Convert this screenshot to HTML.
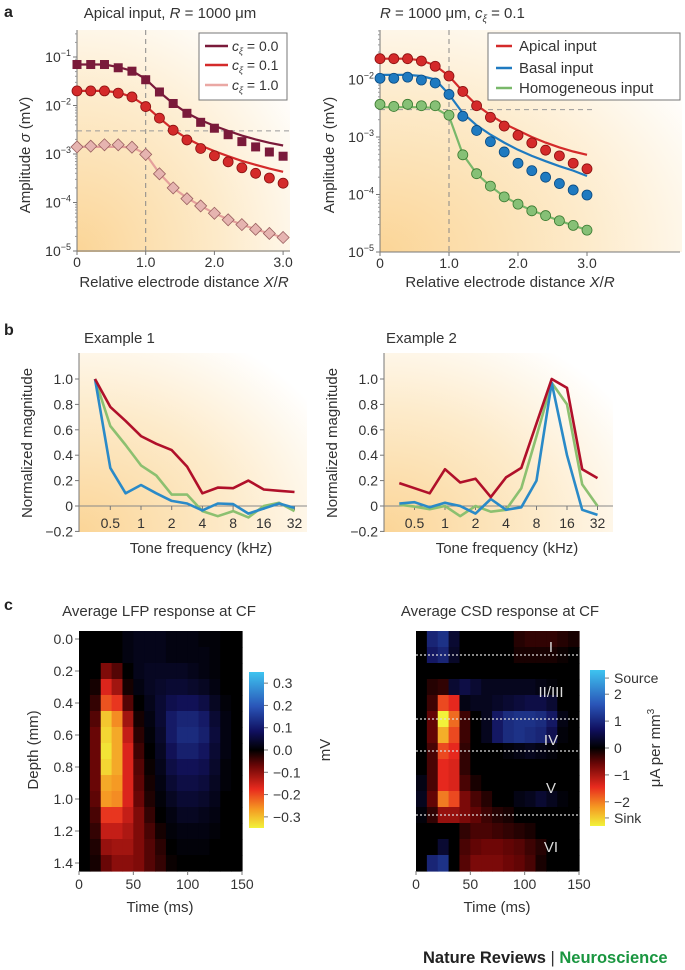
<!DOCTYPE html>
<html><head><meta charset="utf-8">
<style>
html,body{margin:0;padding:0;background:#fff;}
svg{display:block;font-family:"Liberation Sans",sans-serif;}
text{fill:#333;}
</style></head>
<body>
<svg id="fig" width="685" height="970" viewBox="0 0 685 970" xmlns="http://www.w3.org/2000/svg">
<defs>
<radialGradient id="bgA" cx="0" cy="1" r="1.25" fx="0" fy="1">
<stop offset="0" stop-color="#fbd597"/><stop offset="0.55" stop-color="#fdebcb"/><stop offset="1" stop-color="#ffffff"/>
</radialGradient>
<linearGradient id="cbar" x1="0" y1="1" x2="0" y2="0">
<stop offset="0" stop-color="#f2f23a"/><stop offset="0.12" stop-color="#f59a22"/><stop offset="0.25" stop-color="#e82a1e"/><stop offset="0.4" stop-color="#6a0606"/><stop offset="0.5" stop-color="#000"/><stop offset="0.62" stop-color="#101060"/><stop offset="0.78" stop-color="#2a55b8"/><stop offset="1" stop-color="#3ec4f0"/>
</linearGradient>
</defs>

<text x="4" y="17" font-size="16" font-weight="bold" style="fill:#222">a</text>
<text x="170" y="18" font-size="15" text-anchor="middle">Apical input, <tspan font-style="italic">R</tspan> = 1000 μm</text>
<text x="380" y="18" font-size="15"><tspan font-style="italic">R</tspan> = 1000 μm, <tspan font-style="italic">c</tspan><tspan font-size="10" dy="4" font-style="italic">ξ</tspan><tspan dy="-4"> = 0.1</tspan></text>

<rect x="77" y="30" width="213" height="222" fill="url(#bgA)"/>
<rect x="380" y="30" width="302" height="222" fill="url(#bgA)"/>

<text transform="translate(30,155) rotate(-90)" font-size="15" text-anchor="middle">Amplitude <tspan font-style="italic">σ</tspan> (mV)</text>
<text transform="translate(334,155) rotate(-90)" font-size="15" text-anchor="middle">Amplitude <tspan font-style="italic">σ</tspan> (mV)</text>
<text x="184" y="287" font-size="15" text-anchor="middle">Relative electrode distance <tspan font-style="italic">X</tspan>/<tspan font-style="italic">R</tspan></text>
<text x="510" y="287" font-size="15" text-anchor="middle">Relative electrode distance <tspan font-style="italic">X</tspan>/<tspan font-style="italic">R</tspan></text>

<g id="aLeft"></g>
<g id="aRight"></g>

<g>
<rect x="199" y="33" width="88" height="67" fill="#fff" stroke="#777" stroke-width="1"/>
<line x1="205" y1="46" x2="228" y2="46" stroke="#7a1a3a" stroke-width="2.5"/>
<line x1="205" y1="65" x2="228" y2="65" stroke="#d42a2a" stroke-width="2.5"/>
<line x1="205" y1="85" x2="228" y2="85" stroke="#eaa8a4" stroke-width="2.5"/>
<text x="232" y="51" font-size="14"><tspan font-style="italic">c</tspan><tspan font-size="9" dy="3" font-style="italic">ξ</tspan><tspan dy="-3"> = 0.0</tspan></text>
<text x="232" y="70" font-size="14"><tspan font-style="italic">c</tspan><tspan font-size="9" dy="3" font-style="italic">ξ</tspan><tspan dy="-3"> = 0.1</tspan></text>
<text x="232" y="90" font-size="14"><tspan font-style="italic">c</tspan><tspan font-size="9" dy="3" font-style="italic">ξ</tspan><tspan dy="-3"> = 1.0</tspan></text>
</g>
<g>
<rect x="488" y="33" width="192" height="67" fill="#fff" stroke="#777" stroke-width="1"/>
<line x1="496" y1="46" x2="512" y2="46" stroke="#d42a2a" stroke-width="2.5"/>
<line x1="496" y1="68" x2="512" y2="68" stroke="#1f7ac0" stroke-width="2.5"/>
<line x1="496" y1="88" x2="512" y2="88" stroke="#79b86a" stroke-width="2.5"/>
<text x="519" y="51" font-size="15">Apical input</text>
<text x="519" y="73" font-size="15">Basal input</text>
<text x="519" y="93" font-size="15">Homogeneous input</text>
</g>

<text x="4" y="335" font-size="16" font-weight="bold" style="fill:#222">b</text>
<text x="84" y="343" font-size="15">Example 1</text>
<text x="386" y="343" font-size="15">Example 2</text>
<rect x="79" y="353" width="228" height="179" fill="url(#bgA)"/>
<rect x="384" y="353" width="229" height="179" fill="url(#bgA)"/>
<text transform="translate(32,443) rotate(-90)" font-size="15" text-anchor="middle">Normalized magnitude</text>
<text transform="translate(337,443) rotate(-90)" font-size="15" text-anchor="middle">Normalized magnitude</text>
<text x="201" y="553" font-size="15" text-anchor="middle">Tone frequency (kHz)</text>
<text x="507" y="553" font-size="15" text-anchor="middle">Tone frequency (kHz)</text>
<g id="bLeft"></g>
<g id="bRight"></g>

<text x="4" y="610" font-size="16" font-weight="bold" style="fill:#222">c</text>
<text x="159" y="616" font-size="15" text-anchor="middle">Average LFP response at CF</text>
<text x="500" y="616" font-size="15" text-anchor="middle">Average CSD response at CF</text>
<text transform="translate(38,750) rotate(-90)" font-size="15" text-anchor="middle">Depth (mm)</text>
<text x="160" y="912" font-size="15" text-anchor="middle">Time (ms)</text>
<text x="497" y="912" font-size="15" text-anchor="middle">Time (ms)</text>
<g id="cLeft"></g>
<g id="cRight"></g>

<rect x="249" y="672" width="15" height="156" fill="url(#cbar)"/>
<rect x="590" y="670" width="15" height="156" fill="url(#cbar)"/>
<text transform="translate(330,750) rotate(-90)" font-size="15" text-anchor="middle">mV</text>
<text transform="translate(660,748) rotate(-90)" font-size="15" text-anchor="middle">μA per mm<tspan font-size="10" dy="-6">3</tspan></text>

<text x="423" y="963" font-size="16.5" font-weight="bold" style="fill:#222">Nature Reviews <tspan style="fill:#333;font-weight:normal">|</tspan> <tspan style="fill:#1a9640">Neuroscience</tspan></text>
</svg>

<script>
const aX = [0,0.2,0.4,0.6,0.8,1.0,1.2,1.4,1.6,1.8,2.0,2.2,2.4,2.6,2.8,3.0];
const aYTicks = [-1,-2,-3,-4,-5];
const aRYTicks = [-2,-3,-4,-5];
const aXTicks = [0,1,2,3];
const aXTickLabels = ["0","1.0","2.0","3.0"];
const c0Points = [7e-2,7e-2,7e-2,6e-2,5.1e-2,3.4e-2,1.9e-2,1.1e-2,6.9e-3,4.5e-3,3.4e-3,2.5e-3,1.8e-3,1.4e-3,1.1e-3,9e-4];
const c0Line = [7e-2,7e-2,7e-2,6.2e-2,5.2e-2,3.5e-2,1.9e-2,1.1e-2,7e-3,5e-3,3.8e-3,3e-3,2.4e-3,2e-3,1.7e-3,1.5e-3];
const c01Points = [2e-2,2e-2,2e-2,1.8e-2,1.5e-2,9.5e-3,5.5e-3,3.1e-3,1.95e-3,1.3e-3,9.2e-4,6.9e-4,5.2e-4,4e-4,3.2e-4,2.5e-4];
const c01Line = [2e-2,2e-2,2e-2,1.85e-2,1.5e-2,9.8e-3,5.5e-3,3.2e-3,2.1e-3,1.5e-3,1.15e-3,9e-4,7.2e-4,6e-4,5e-4,4.3e-4];
const c1Points = [1.4e-3,1.45e-3,1.55e-3,1.55e-3,1.38e-3,9.8e-4,3.9e-4,2e-4,1.2e-4,8.5e-5,6e-5,4.4e-5,3.5e-5,2.8e-5,2.3e-5,1.9e-5];
const c1Line = [1.4e-3,1.4e-3,1.4e-3,1.4e-3,1.38e-3,1e-3,4e-4,2e-4,1.25e-4,8.5e-5,6e-5,4.5e-5,3.5e-5,2.8e-5,2.3e-5,1.9e-5];
const apicalPoints = [2.3e-2,2.3e-2,2.3e-2,2.1e-2,1.7e-2,1.15e-2,6.2e-3,3.5e-3,2.2e-3,1.55e-3,1.07e-3,7.9e-4,5.9e-4,4.7e-4,3.5e-4,2.8e-4];
const apicalLine = [2.3e-2,2.3e-2,2.3e-2,2.15e-2,1.75e-2,1.15e-2,6.2e-3,3.6e-3,2.4e-3,1.7e-3,1.3e-3,1e-3,8e-4,6.6e-4,5.6e-4,4.9e-4];
const basalPoints = [1.05e-2,1.05e-2,1.1e-2,9.8e-3,8.7e-3,5.5e-3,2.3e-3,1.3e-3,8.3e-4,5.5e-4,3.5e-4,2.6e-4,2e-4,1.55e-4,1.2e-4,9.8e-5];
const basalLine = [1.2e-2,1.2e-2,1.2e-2,1.15e-2,1e-2,5.5e-3,2.6e-3,1.6e-3,1.1e-3,8e-4,6e-4,4.7e-4,3.8e-4,3.1e-4,2.6e-4,2.1e-4];
const homPoints = [3.7e-3,3.4e-3,3.7e-3,3.5e-3,3.5e-3,2.4e-3,4.9e-4,2.3e-4,1.4e-4,9.1e-5,6.8e-5,5.2e-5,4.3e-5,3.5e-5,2.9e-5,2.4e-5];
const homLine = [3.3e-3,3.3e-3,3.3e-3,3.3e-3,3.2e-3,2.3e-3,5e-4,2.3e-4,1.4e-4,9.2e-5,6.8e-5,5.3e-5,4.3e-5,3.5e-5,2.9e-5,2.4e-5];
const thresholdValue = 3e-3;
const thresholdX = 1.0;

const bFreqs = [0.354,0.5,0.707,1,1.414,2,2.83,4,5.66,8,11.3,16,22.6,32];
const bXTicks = [0.5,1,2,4,8,16,32];
const bXTickLabels = ["0.5","1","2","4","8","16","32"];
const bYTicks = [-0.2,0,0.2,0.4,0.6,0.8,1.0];
const bYTickLabels = ["\u22120.2","0","0.2","0.4","0.6","0.8","1.0"];
const ex1Red = [1.0,0.78,0.67,0.55,0.49,0.44,0.31,0.10,0.145,0.14,0.20,0.13,0.12,0.11];
const ex1Blue = [1.0,0.30,0.10,0.165,0.10,0.04,0.02,-0.035,0.02,0.015,-0.06,-0.02,0.02,-0.015];
const ex1Green = [1.0,0.63,0.48,0.32,0.24,0.09,0.09,-0.04,-0.08,-0.04,-0.09,0.0,0.025,-0.04];
const ex2Red = [0.18,0.14,0.10,0.29,0.185,0.215,0.07,0.225,0.30,0.65,1.0,0.93,0.29,0.22];
const ex2Blue = [0.02,0.03,-0.01,0.025,0.0,-0.06,0.055,-0.03,-0.01,0.20,0.97,0.40,-0.03,-0.07];
const ex2Green = [0.01,-0.005,-0.025,0.0,-0.08,0.0,-0.045,-0.03,0.14,0.55,0.97,0.80,0.17,0.0];

const cDepths = [0.0,0.1,0.2,0.3,0.4,0.5,0.6,0.7,0.8,0.9,1.0,1.1,1.2,1.3,1.4];
const cTimes = [5,15,25,35,45,55,65,75,85,95,105,115,125,135,145];
const cDepthTicks = [0.0,0.2,0.4,0.6,0.8,1.0,1.2,1.4];
const cDepthTickLabels = ["0.0","0.2","0.4","0.6","0.8","1.0","1.2","1.4"];
const cTimeTicks = [0,50,100,150];
const lfpTicks = [0.3,0.2,0.1,0.0,-0.1,-0.2,-0.3];
const lfpTickLabels = ["0.3","0.2","0.1","0.0","\u22120.1","\u22120.2","\u22120.3"];
const csdTicks = [2.6,2,1,0,-1,-2,-2.6];
const csdTickLabels = ["Source","2","1","0","\u22121","\u22122","Sink"];
const layerNames = ["I","II/III","IV","V","VI"];
const layerLabelDepths = [0.05,0.33,0.63,0.93,1.3];
const layerBoundaries = [0.15,0.55,0.75,1.15];
const lfpValues = [
[0,0,0,0,0.02,0.03,0.03,0.03,0.02,0.02,0.02,0.01,0.01,0,0],
[0,0,0,0,0.02,0.03,0.03,0.03,0.02,0.02,0.02,0.02,0.01,0,0],
[0,0,-0.12,-0.08,0,0.03,0.04,0.04,0.04,0.04,0.03,0.02,0.01,0,0],
[0,-0.02,-0.2,-0.15,-0.02,0.02,0.04,0.05,0.06,0.06,0.05,0.04,0.02,0,0],
[0,-0.05,-0.24,-0.22,-0.08,0,0.03,0.06,0.09,0.1,0.1,0.08,0.04,0.01,0],
[0,-0.08,-0.32,-0.28,-0.15,-0.02,0.02,0.06,0.12,0.14,0.14,0.12,0.06,0.02,0],
[0,-0.1,-0.33,-0.3,-0.18,-0.04,0.01,0.05,0.12,0.15,0.15,0.13,0.07,0.02,0],
[0,-0.1,-0.34,-0.3,-0.2,-0.06,0,0.04,0.1,0.13,0.13,0.11,0.06,0.02,0],
[0,-0.1,-0.33,-0.3,-0.2,-0.08,-0.01,0.03,0.08,0.1,0.1,0.09,0.05,0.01,0],
[0,-0.1,-0.3,-0.29,-0.2,-0.09,-0.02,0.02,0.06,0.08,0.08,0.07,0.04,0.01,0],
[0,-0.09,-0.29,-0.28,-0.2,-0.1,-0.03,0.01,0.04,0.06,0.06,0.05,0.03,0,0],
[0,-0.07,-0.22,-0.22,-0.18,-0.12,-0.05,0,0.02,0.04,0.04,0.03,0.02,0,0],
[0,-0.05,-0.18,-0.18,-0.16,-0.12,-0.07,-0.02,0.01,0.02,0.02,0.02,0.01,0,0],
[0,-0.03,-0.14,-0.15,-0.15,-0.12,-0.08,-0.04,0,0.01,0.01,0.01,0,0,0],
[0,-0.02,-0.1,-0.13,-0.13,-0.12,-0.08,-0.05,-0.01,0,0,0,0,0,0]
];
const csdValues = [
[0,1.2,1.4,0.5,0,0,0,0,0,-0.3,-0.4,-0.4,-0.4,-0.3,-0.2],
[0,1.0,1.2,0.4,0,0,0,0,0,-0.2,-0.2,-0.2,-0.2,-0.1,0],
[0,0,0,0,0,0,0,0,0,0,0,0,0,0,0],
[0,-0.3,-0.4,0.5,0.7,0.5,0.3,0.3,0.3,0.3,0.3,0.2,0.1,0,0],
[0,-0.5,-2.0,-1.8,0.2,0.3,0.3,0.4,0.5,0.6,0.7,0.7,0.5,0,0],
[0,-0.8,-3.0,-2.2,-0.5,0,0.3,1.0,1.3,1.4,1.4,1.3,1.0,0.2,0],
[0,-0.8,-2.6,-2.0,-0.5,0,0.3,1.0,1.3,1.4,1.3,1.2,0.8,0.1,0],
[0,-0.6,-2.0,-1.8,-0.4,0,0,0,0.1,0.2,0.3,0.2,0.1,0,0],
[0,-0.6,-1.8,-1.7,-0.4,0,0,0,0,0,0,0,0,0,0],
[0.2,-0.6,-1.8,-1.7,-0.6,-0.2,0,0,0,0,0,0,0,0,0],
[0.3,-0.8,-2.3,-2.0,-1.0,-0.6,-0.3,0,0,0.2,0.3,0.5,0.3,0.1,0],
[0.1,-0.4,-1.2,-1.2,-1.0,-0.8,-0.5,-0.3,-0.2,0,0,0,0,0,0],
[0,0,0,0,-0.4,-0.6,-0.6,-0.5,-0.4,-0.3,-0.2,0,0,0,0],
[0,0,0.5,0,-0.6,-0.8,-0.9,-0.9,-0.8,-0.7,-0.5,-0.3,0,0,0],
[0,1.2,1.4,0,-0.7,-1.0,-1.0,-1.0,-0.9,-0.8,-0.6,-0.2,0,0,0]
];

const NS = "http://www.w3.org/2000/svg";
function mk(parent, tag, attrs, txt) {
  const e = document.createElementNS(NS, tag);
  for (const k in attrs) e.setAttribute(k, attrs[k]);
  if (txt !== undefined) e.textContent = txt;
  parent.appendChild(e);
  return e;
}

function drawA(g, x0, x1, ux, yBottom, decade, ticks, yTop, series, dashRight) {
  const sx = v => x0 + ux * v;
  const sy = v => yBottom - (Math.log10(v) + 5) * decade;
  const axL = mk(g, "line", {x1:x0, y1:yTop, x2:x0, y2:yBottom, stroke:"#777", "stroke-width":1});
  
  
  const axB = mk(g, "line", {x1:x0, y1:yBottom, x2:x1, y2:yBottom, stroke:"#777", "stroke-width":1});
  
  
  ticks.forEach(p => {
    const y = sy(Math.pow(10, p));
    mk(g, "line", {x1:x0-4, y1:y, x2:x0, y2:y, stroke:"#777"});
    const t = mk(g, "text", {x:x0-6, y:y+5, "font-size":14, "text-anchor":"end"});
    
    
    t.innerHTML = '10<tspan font-size="9" dy="-6">\u2212' + (-p) + '</tspan>';
  });
  for (let p = -5; p < ticks[0] + 1; p++) for (let m = 2; m < 10; m++) {
    const v = m * Math.pow(10, p), y = sy(v);
    if (y >= yTop) mk(g, "line", {x1:x0-2, y1:y, x2:x0, y2:y, stroke:"#999"});
  }
  aXTicks.forEach((v, i) => {
    mk(g, "line", {x1:sx(v), y1:yBottom, x2:sx(v), y2:yBottom+4, stroke:"#777"});
    const t = mk(g, "text", {x:sx(v), y:yBottom+16, "font-size":14, "text-anchor":"middle"}, aXTickLabels[i]);
    
    
  });
  const hy = sy(thresholdValue);
  const dh = mk(g, "line", {x1:x0, y1:hy, x2:dashRight, y2:hy, stroke:"#999", "stroke-width":1, "stroke-dasharray":"5,4"});
  
  
  const dv = mk(g, "line", {x1:sx(thresholdX), y1:yTop, x2:sx(thresholdX), y2:yBottom, stroke:"#888", "stroke-width":1, "stroke-dasharray":"5,4"});
  
  
  series.forEach(s => {
    const d = s.line.map((v, i) => (i ? "L" : "M") + sx(aX[i]).toFixed(1) + "," + sy(v).toFixed(1)).join(" ");
    const p = mk(g, "path", {d:d, fill:"none", stroke:s.lc, "stroke-width":2.2});
    
    
    s.pts.forEach((v, i) => {
      const cx = sx(aX[i]), cy = sy(v);
      let m;
      if (s.shape === "sq") m = mk(g, "rect", {x:cx-4.5, y:cy-4.5, width:9, height:9, fill:s.fc});
      else if (s.shape === "dia") m = mk(g, "path", {d:`M${cx},${cy-6}L${cx+6},${cy}L${cx},${cy+6}L${cx-6},${cy}Z`, fill:s.fc, stroke:s.sc, "stroke-width":0.8});
      else m = mk(g, "circle", {cx:cx, cy:cy, r:5, fill:s.fc, stroke:s.sc, "stroke-width":0.8});
      
      
    });
  });
}
drawA(document.getElementById("aLeft"), 77, 290, 68.7, 251, 48.5, aYTicks, 30, [
  {name:"c-0.0", line:c0Line, pts:c0Points, lc:"#7a1a3a", fc:"#7a1a3a", sc:"#5a0a2a", shape:"sq"},
  {name:"c-0.1", line:c01Line, pts:c01Points, lc:"#d42a2a", fc:"#d42a2a", sc:"#8a1010", shape:"circ"},
  {name:"c-1.0", line:c1Line, pts:c1Points, lc:"#e5a09c", fc:"#e6b4b0", sc:"#9a6060", shape:"dia"}
], 290);
drawA(document.getElementById("aRight"), 380, 680, 69, 252, 57.5, aRYTicks, 30, [
  {name:"apical", line:apicalLine, pts:apicalPoints, lc:"#d42a2a", fc:"#d42a2a", sc:"#8a1010", shape:"circ"},
  {name:"basal", line:basalLine, pts:basalPoints, lc:"#1f7ac0", fc:"#1f7ac0", sc:"#0a4a80", shape:"circ"},
  {name:"homogeneous", line:homLine, pts:homPoints, lc:"#79b86a", fc:"#86c076", sc:"#3a7a30", shape:"circ"}
], 593);

function drawB(g, x0, x1, oct1, octW, series) {
  const sx = f => oct1 + octW * Math.log2(f);
  const sy = v => 506 - v * 127;
  const ax = mk(g, "line", {x1:x0, y1:353, x2:x0, y2:532, stroke:"#777"});
  
  
  const z = mk(g, "line", {x1:x0, y1:sy(0), x2:x1, y2:sy(0), stroke:"#888"});
  
  
  bYTicks.forEach((v, i) => {
    mk(g, "line", {x1:x0-4, y1:sy(v), x2:x0, y2:sy(v), stroke:"#777"});
    const t = mk(g, "text", {x:x0-6, y:sy(v)+5, "font-size":14, "text-anchor":"end"}, bYTickLabels[i]);
    
    
  });
  bXTicks.forEach((f, i) => {
    mk(g, "line", {x1:sx(f), y1:sy(0), x2:sx(f), y2:sy(0)+4, stroke:"#777"});
    const t = mk(g, "text", {x:sx(f), y:sy(0)+22, "font-size":14, "text-anchor":"middle"}, bXTickLabels[i]);
    
    
  });
  series.forEach(s => {
    const d = s.v.map((v, i) => (i ? "L" : "M") + sx(bFreqs[i]).toFixed(1) + "," + sy(v).toFixed(1)).join(" ");
    const p = mk(g, "path", {d:d, fill:"none", stroke:s.c, "stroke-width":2.6, "stroke-linejoin":"round"});
    
    
  });
}
drawB(document.getElementById("bLeft"), 79, 307, 141, 30.7, [
  {name:"example1-green-line", v:ex1Green, c:"#8cc070"},
  {name:"example1-blue-line", v:ex1Blue, c:"#2a8ac8"},
  {name:"example1-red-line", v:ex1Red, c:"#b0102a"}
]);
drawB(document.getElementById("bRight"), 384, 613, 445, 30.5, [
  {name:"example2-green-line", v:ex2Green, c:"#8cc070"},
  {name:"example2-blue-line", v:ex2Blue, c:"#2a8ac8"},
  {name:"example2-red-line", v:ex2Red, c:"#b0102a"}
]);

const stopsNeg = [[0,[0,0,0]],[0.3,[110,6,6]],[0.6,[230,40,30]],[0.82,[245,150,35]],[1,[242,242,58]]];
const stopsPos = [[0,[0,0,0]],[0.3,[18,18,90]],[0.65,[42,85,184]],[1,[62,196,240]]];
function cmap(t) {
  const st = t < 0 ? stopsNeg : stopsPos;
  let a = Math.min(1, Math.abs(t));
  for (let i = 1; i < st.length; i++) {
    if (a <= st[i][0]) {
      const f = (a - st[i-1][0]) / (st[i][0] - st[i-1][0]);
      const c = st[i-1][1].map((v, k) => Math.round(v + (st[i][1][k] - v) * f));
      return `rgb(${c[0]},${c[1]},${c[2]})`;
    }
  }
  const c = st[st.length-1][1];
  return `rgb(${c[0]},${c[1]},${c[2]})`;
}
function drawHeat(g, x0, x1, vals, vmax, showDepth) {
  const y0 = 631, y1 = 871;
  const sx = t => x0 + (x1 - x0) * t / 150;
  const rowH = (y1 - y0) / cDepths.length;
  const sy = d => y0 + rowH * (d / 0.1 + 0.5);
  mk(g, "rect", {x:x0, y:y0, width:x1-x0, height:y1-y0, fill:"#000"});
  vals.forEach((row, r) => row.forEach((v, c) => {
    const cell = mk(g, "rect", {x:(sx(cTimes[c]-5)).toFixed(2), y:(sy(cDepths[r])-rowH/2).toFixed(2), width:((x1-x0)/15+0.6).toFixed(2), height:(rowH+0.6).toFixed(2), fill:cmap(v / vmax)});
    
    
  }));
  cTimeTicks.forEach(t => {
    mk(g, "line", {x1:sx(t), y1:y1, x2:sx(t), y2:y1+4, stroke:"#777"});
    const tl = mk(g, "text", {x:sx(t), y:y1+18, "font-size":14, "text-anchor":"middle"}, String(t));
    
    
  });
  if (showDepth) cDepthTicks.forEach((d, i) => {
    mk(g, "line", {x1:x0-4, y1:sy(d), x2:x0, y2:sy(d), stroke:"#777"});
    const tl = mk(g, "text", {x:x0-6, y:sy(d)+5, "font-size":14, "text-anchor":"end"}, cDepthTickLabels[i]);
    
    
  });
  return sy;
}
drawHeat(document.getElementById("cLeft"), 79, 242, lfpValues, 0.35, true);
const syC = drawHeat(document.getElementById("cRight"), 416, 579, csdValues, 3.0, false);
const gR = document.getElementById("cRight");
layerBoundaries.forEach(d => {
  const y = 631 + 240 * d / 1.5;
  const l = mk(gR, "line", {x1:416, y1:y, x2:579, y2:y, stroke:"#ddd", "stroke-width":1.2, "stroke-dasharray":"2,2"});
  
  
});
layerNames.forEach((n, i) => {
  const t = mk(gR, "text", {x:551, y:syC(layerLabelDepths[i])+5, "font-size":15, "text-anchor":"middle", style:"fill:#ddd"}, n);
  
  
});
function cbTicks(x, yTop, h, ticks, labels, vmax) {
  const svg = document.getElementById("fig");
  ticks.forEach((v, i) => {
    const y = yTop + h / 2 - (v / vmax) * (h / 2);
    mk(svg, "line", {x1:x+15, y1:y, x2:x+19, y2:y, stroke:"#777"});
    const t = mk(svg, "text", {x:x+24, y:y+5, "font-size":14}, labels[i]);
    
    
  });
}
cbTicks(249, 672, 156, lfpTicks, lfpTickLabels, 0.35);
cbTicks(590, 670, 156, csdTicks, csdTickLabels, 2.9);
</script>
</body></html>
